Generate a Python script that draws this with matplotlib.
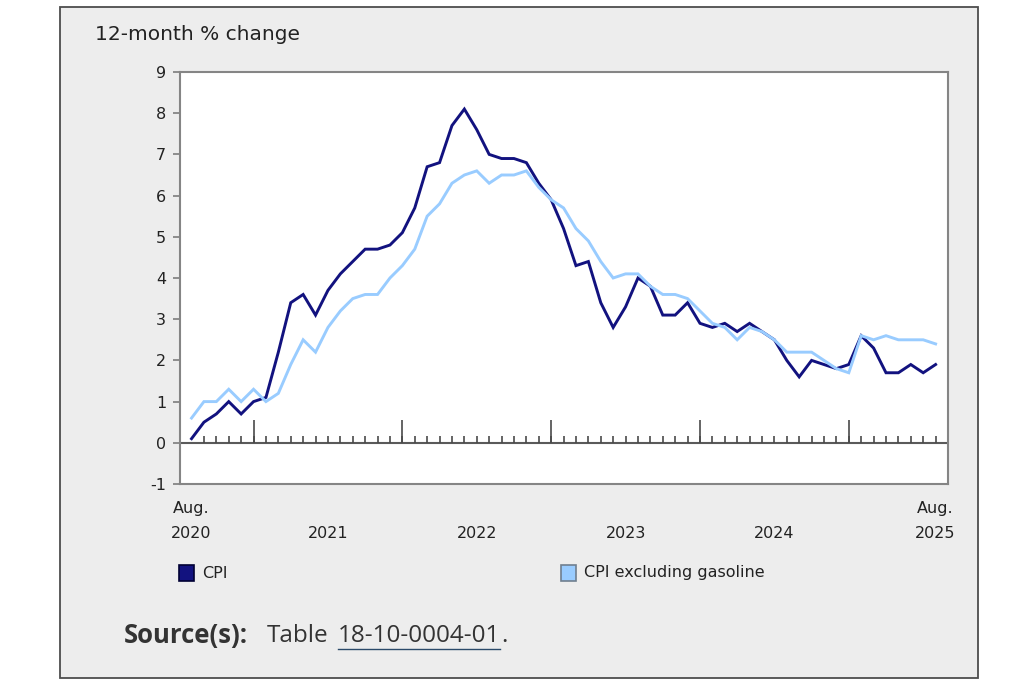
import numpy as np
from matplotlib import pyplot as plt
from matplotlib.patches import Rectangle
from matplotlib.lines import Line2D
from matplotlib import transforms

plt.rcParams['font.family'] = ['DejaVu Sans']
plt.rcParams['axes.unicode_minus'] = False

# 12-month % change, Aug 2020 .. Aug 2025
cpi = [0.1, 0.5, 0.7, 1.0, 0.7,
       1.0, 1.1, 2.2, 3.4, 3.6, 3.1, 3.7, 4.1, 4.4, 4.7, 4.7, 4.8,
       5.1, 5.7, 6.7, 6.8, 7.7, 8.1, 7.6, 7.0, 6.9, 6.9, 6.8, 6.3,
       5.9, 5.2, 4.3, 4.4, 3.4, 2.8, 3.3, 4.0, 3.8, 3.1, 3.1, 3.4,
       2.9, 2.8, 2.9, 2.7, 2.9, 2.7, 2.5, 2.0, 1.6, 2.0, 1.9, 1.8,
       1.9, 2.6, 2.3, 1.7, 1.7, 1.9, 1.7, 1.9]
cpi_ex_gas = [0.6, 1.0, 1.0, 1.3, 1.0,
              1.3, 1.0, 1.2, 1.9, 2.5, 2.2, 2.8, 3.2, 3.5, 3.6, 3.6, 4.0,
              4.3, 4.7, 5.5, 5.8, 6.3, 6.5, 6.6, 6.3, 6.5, 6.5, 6.6, 6.2,
              5.9, 5.7, 5.2, 4.9, 4.4, 4.0, 4.1, 4.1, 3.8, 3.6, 3.6, 3.5,
              3.2, 2.9, 2.8, 2.5, 2.8, 2.7, 2.5, 2.2, 2.2, 2.2, 2.0, 1.8,
              1.7, 2.6, 2.5, 2.6, 2.5, 2.5, 2.5, 2.4]
series_names = ["CPI", "CPI excluding gasoline"]
series_colors = ["#12127f", "#99ccff"]

label_pos = [0, 11, 23, 35, 47, 60]
label_top = ["Aug.", "", "", "", "", "Aug."]
label_bottom = ["2020", "2021", "2022", "2023", "2024", "2025"]
january = [5, 17, 29, 41, 53]

W, H = 1024, 683
fig = plt.figure(figsize=(W / 100, H / 100), dpi=100)
fig.patch.set_facecolor("white")


def fx(px):
    return px / W


def fy(py):
    return 1 - py / H


# outer gray panel
fig.patches.append(Rectangle((fx(60), fy(678)), fx(978) - fx(60), fy(7) - fy(678),
                             transform=fig.transFigure, facecolor="#ededed",
                             edgecolor="#4d4d4d", lw=1.3, zorder=-5))

ax = fig.add_axes([fx(180), fy(484), fx(948) - fx(180), fy(72) - fy(484)])
ax.set_zorder(2)
ax.set_facecolor("white")
x = np.arange(len(cpi))

ax.plot(x, cpi, color=series_colors[0], lw=2.1, solid_joinstyle="miter", zorder=3)
ax.plot(x, cpi_ex_gas, color=series_colors[1], lw=2.1, solid_joinstyle="miter", zorder=3)

ax.set_xlim(-0.93, 61.0)
ax.set_ylim(-1, 9)

# zero axis with month ticks
ax.axhline(0, color="#5a5a5a", lw=1.5, zorder=2)
months = np.arange(1, len(cpi))
ax.vlines(months, 0, 0.17, color="#4a4a4a", lw=1.2, zorder=2)
ax.vlines(january, 0, 0.56, color="#4a4a4a", lw=1.2, zorder=2)

for s in ax.spines.values():
    s.set_color("#858585")
    s.set_linewidth(1.5)

ax.set_yticks(range(-1, 10))
ax.tick_params(axis="y", direction="out", length=5, width=1.3, color="#858585",
               pad=5, labelsize=11.5, labelcolor="#222222")
ax.set_xticks([])

trans = transforms.blended_transform_factory(ax.transData, ax.transAxes)
for p, t, b in zip(label_pos, label_top, label_bottom):
    if t:
        ax.text(p, -25 / 412, t, transform=trans, ha="center", va="center",
                fontsize=11.5, color="#222222")
    ax.text(p, -49 / 412, b, transform=trans, ha="center", va="center",
            fontsize=11.5, color="#222222")

fig.text(fx(95), fy(34), "12-month % change", ha="left", va="center",
         fontsize=14.5, color="#222222")

# legend
leg_x = [179, 561]
for lx, name, c in zip(leg_x, series_names, series_colors):
    edge = "#000033" if c == series_colors[0] else "#6f7f8f"
    fig.patches.append(Rectangle((fx(lx), fy(581)), fx(15), 16 / H,
                                 transform=fig.transFigure, facecolor=c,
                                 edgecolor=edge, lw=1.2))
    fig.text(fx(lx + 23), fy(573), name, ha="left", va="center",
             fontsize=11.5, color="#222222")

# source line
src_font = ["Open Sans", "DejaVu Sans"]
t1 = fig.text(fx(124), fy(636), "Source(s):", ha="left", va="center",
              fontsize=18.5, fontweight="bold", color="#333333", family=src_font)
t2 = fig.text(fx(267), fy(636), "Table", ha="left", va="center",
              fontsize=17.5, color="#333333", family=src_font)
t3 = fig.text(fx(338), fy(636), "18-10-0004-01", ha="left", va="center",
              fontsize=17.5, color="#333333", family=src_font)
fig.canvas.draw()
r = fig.canvas.get_renderer()
bb = t3.get_window_extent(r)
fig.text((bb.x1 + 1) / W, fy(636), ".", ha="left", va="center",
         fontsize=17.5, color="#333333", family=src_font)
fig.lines.append(Line2D([bb.x0 / W, bb.x1 / W], [fy(649), fy(649)],
                        transform=fig.transFigure, color="#2b4a6a", lw=1.0))

fig.savefig("out.png", dpi=100)
